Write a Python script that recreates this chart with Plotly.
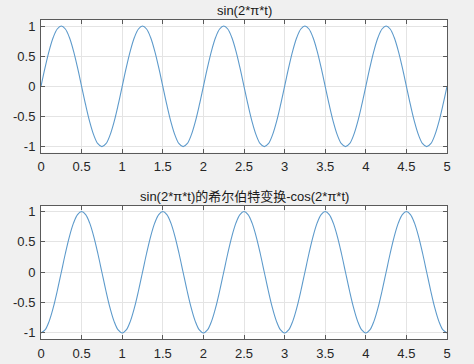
import plotly.graph_objects as go
from plotly.subplots import make_subplots

# Sample times (step 0.05)
t = [round(i * 0.05, 2) for i in range(101)]

# sin(2*pi*t) values
sin_vals = [
    0, 0.309, 0.588, 0.809, 0.951, 1, 0.951, 0.809, 0.588, 0.309,
    0, -0.309, -0.588, -0.809, -0.951, -1, -0.951, -0.809, -0.588, -0.309,
    0, 0.309, 0.588, 0.809, 0.951, 1, 0.951, 0.809, 0.588, 0.309,
    0, -0.309, -0.588, -0.809, -0.951, -1, -0.951, -0.809, -0.588, -0.309,
    0, 0.309, 0.588, 0.809, 0.951, 1, 0.951, 0.809, 0.588, 0.309,
    0, -0.309, -0.588, -0.809, -0.951, -1, -0.951, -0.809, -0.588, -0.309,
    0, 0.309, 0.588, 0.809, 0.951, 1, 0.951, 0.809, 0.588, 0.309,
    0, -0.309, -0.588, -0.809, -0.951, -1, -0.951, -0.809, -0.588, -0.309,
    0, 0.309, 0.588, 0.809, 0.951, 1, 0.951, 0.809, 0.588, 0.309,
    0, -0.309, -0.588, -0.809, -0.951, -1, -0.951, -0.809, -0.588, -0.309,
    0,
]

# Hilbert transform values (-cos(2*pi*t))
hilb_vals = [
    -1, -0.951, -0.809, -0.588, -0.309, 0, 0.309, 0.588, 0.809, 0.951,
    1, 0.951, 0.809, 0.588, 0.309, 0, -0.309, -0.588, -0.809, -0.951,
    -1, -0.951, -0.809, -0.588, -0.309, 0, 0.309, 0.588, 0.809, 0.951,
    1, 0.951, 0.809, 0.588, 0.309, 0, -0.309, -0.588, -0.809, -0.951,
    -1, -0.951, -0.809, -0.588, -0.309, 0, 0.309, 0.588, 0.809, 0.951,
    1, 0.951, 0.809, 0.588, 0.309, 0, -0.309, -0.588, -0.809, -0.951,
    -1, -0.951, -0.809, -0.588, -0.309, 0, 0.309, 0.588, 0.809, 0.951,
    1, 0.951, 0.809, 0.588, 0.309, 0, -0.309, -0.588, -0.809, -0.951,
    -1, -0.951, -0.809, -0.588, -0.309, 0, 0.309, 0.588, 0.809, 0.951,
    1, 0.951, 0.809, 0.588, 0.309, 0, -0.309, -0.588, -0.809, -0.951,
    -1,
]

x_ticks = [0, 0.5, 1, 1.5, 2, 2.5, 3, 3.5, 4, 4.5, 5]
x_tick_labels = ["0", "0.5", "1", "1.5", "2", "2.5", "3", "3.5", "4", "4.5", "5"]
y_ticks = [-1, -0.5, 0, 0.5, 1]
y_tick_labels = ["-1", "-0.5", "0", "0.5", "1"]

titles = ["sin(2*π*t)", "sin(2*π*t)的希尔伯特变换-cos(2*π*t)"]

FONT = "Liberation Sans, Arial, Noto Sans CJK SC, sans-serif"
LINE = "#5d9acb"
AX = "#5a5a5a"
GRID = "#e4e4e4"
TXT = "#262626"

fig = make_subplots(rows=2, cols=1)
fig.add_trace(go.Scatter(x=t, y=sin_vals, mode="lines", line=dict(color=LINE, width=1.1, shape="spline", smoothing=1.0), showlegend=False, hoverinfo="skip"), row=1, col=1)
fig.add_trace(go.Scatter(x=t, y=hilb_vals, mode="lines", line=dict(color=LINE, width=1.1, shape="spline", smoothing=1.0), showlegend=False, hoverinfo="skip"), row=2, col=1)

H, T, B = 364, 20, 25
ph = H - T - B
top_dom = [1 - (152.7 - T) / ph, 1]
bot_dom = [0, 1 - (205.5 - T) / ph]

common_x = dict(range=[0, 5], tickvals=x_ticks, ticktext=x_tick_labels, showgrid=True, gridcolor=GRID,
                gridwidth=1, zeroline=False, showline=True, linecolor=AX, linewidth=1, mirror="ticks",
                ticks="inside", ticklen=4, tickcolor=AX, automargin=False, ticklabelstandoff=2,
                tickfont=dict(family=FONT, size=13, color=TXT))
common_y = dict(range=[-1.1, 1.1], tickvals=y_ticks, ticktext=y_tick_labels, showgrid=True, gridcolor=GRID,
                gridwidth=1, zeroline=False, showline=True, linecolor=AX, linewidth=1, mirror="ticks",
                ticks="inside", ticklen=4, tickcolor=AX, automargin=False, ticklabelstandoff=2,
                tickfont=dict(family=FONT, size=13, color=TXT))

fig.update_layout(
    width=474, height=364,
    margin=dict(l=41, r=27, t=T, b=B),
    paper_bgcolor="#f0f0f0", plot_bgcolor="white",
    font=dict(family=FONT, color=TXT),
    xaxis=dict(common_x, domain=[0, 1], anchor="y"),
    yaxis=dict(common_y, domain=top_dom, anchor="x"),
    xaxis2=dict(common_x, domain=[0, 1], anchor="y2"),
    yaxis2=dict(common_y, domain=bot_dom, anchor="x2"),
)

fig.add_annotation(text=titles[0], xref="paper", yref="paper", x=0.5, y=top_dom[1], yanchor="bottom",
                   yshift=0, showarrow=False, font=dict(family=FONT, size=13, color="#1a1a1a"))
fig.add_annotation(text=titles[1], xref="paper", yref="paper", x=0.5, y=bot_dom[1], yanchor="bottom",
                   yshift=0, showarrow=False, font=dict(family=FONT, size=13, color="#1a1a1a"))

fig.write_html("out.html", config={"displayModeBar": False, "staticPlot": True},
               post_script="document.body.style.margin='0';document.body.style.overflow='hidden';document.body.style.background='#f0f0f0';")
